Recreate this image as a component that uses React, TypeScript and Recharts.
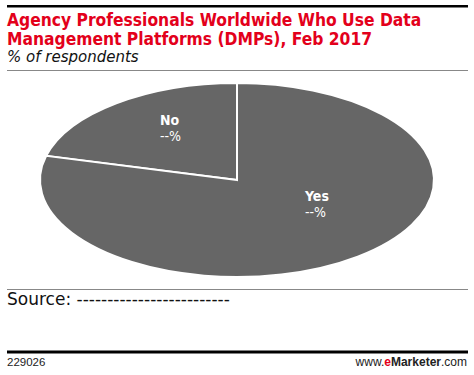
import React from "react";
import { PieChart, Pie, Cell } from "recharts";

const categories = ["No", "Yes"];
const values = [21, 79];
const valueLabels = ["--%", "--%"];

const TITLE_LINES = [
  "Agency Professionals Worldwide Who Use Data",
  "Management Platforms (DMPs), Feb 2017",
];
const SUBTITLE = "% of respondents";
const SOURCE = "Source: -------------------------";
const CHART_ID = "229026";

const data = categories.map((name, i) => ({ name, value: values[i], label: valueLabels[i] }));

const W = 474;
const H = 375;
const RY = 97;
const X_STRETCH = 197 / 97;
const SLICE_FILL = "#666666";
const RED = "#e3001b";

const LABEL_OFFSETS: Record<string, { dx: number; dy: number }> = {
  No: { dx: -77, dy: -55 },
  Yes: { dx: 68, dy: 21 },
};

const RAD = Math.PI / 180;

function EllipseSector(props: any) {
  const { cx, cy, outerRadius, startAngle, endAngle, fill } = props;
  const ry = outerRadius;
  const rx = outerRadius * X_STRETCH;
  const p = (a: number) => [cx + rx * Math.cos(a * RAD), cy - ry * Math.sin(a * RAD)];
  const [x1, y1] = p(startAngle);
  const [x2, y2] = p(endAngle);
  const span = Math.abs(endAngle - startAngle);
  const large = span > 180 ? 1 : 0;
  const sweep = endAngle > startAngle ? 0 : 1;
  const d = `M${cx},${cy} L${x1},${y1} A${rx},${ry} 0 ${large} ${sweep} ${x2},${y2} Z`;
  return <path d={d} fill={fill} stroke="#ffffff" strokeWidth={2} strokeLinejoin="miter" />;
}

function renderLabel(props: any) {
  const { cx, cy, payload, name } = props;
  const key = (payload && payload.name) || name;
  const off = LABEL_OFFSETS[key] || { dx: 0, dy: 0 };
  const x = cx + off.dx;
  const y = cy + off.dy;
  return (
    <g>
      <text x={x} y={y} fill="#ffffff" fontFamily="DejaVu Sans Condensed" fontWeight="bold" fontSize={14} textAnchor="start">
        {key}
      </text>
      <text x={x} y={y + 16} fill="#ffffff" fontFamily="DejaVu Sans Condensed" fontSize={14} textAnchor="start">
        {(payload && payload.label) || "--%"}
      </text>
    </g>
  );
}

export default function App() {
  return (
    <div style={{ position: "absolute", left: 0, top: 0, width: W, height: H, background: "#fff" }}>
      <svg width={W} height={H} style={{ position: "absolute", left: 0, top: 0 }}>
        <rect x={7} y={5} width={461} height={2.5} fill="#000" />
        {TITLE_LINES.map((t, i) => (
          <text key={i} x={7} y={26 + i * 18.5} fill={RED} fontFamily="DejaVu Sans Condensed" fontWeight="bold" fontSize={17.3}>
            {t}
          </text>
        ))}
        <text x={7} y={62} fill="#111" fontFamily="DejaVu Sans" fontStyle="italic" fontSize={15}>
          {SUBTITLE}
        </text>
        <rect x={7} y={70} width={461} height={1} fill="#888" />
        <rect x={7} y={289} width={461} height={1} fill="#888" />
        <text x={7} y={305} fill="#111" fontFamily="DejaVu Sans" fontSize={17}>
          {SOURCE}
        </text>
        <rect x={7} y={350.5} width={461} height={3} fill="#000" />
        <text x={7} y={366} fill="#222" fontFamily="Liberation Sans" fontSize={11.5}>
          {CHART_ID}
        </text>
        <text x={467} y={366} fill="#222" fontFamily="Liberation Sans" fontSize={12} textAnchor="end">
          <tspan>www.</tspan>
          <tspan fill={RED} fontWeight="bold">e</tspan>
          <tspan fontWeight="bold">Marketer</tspan>
          <tspan>.com</tspan>
        </text>
      </svg>
      <div style={{ position: "absolute", left: 0, top: 0 }}>
        <PieChart width={W} height={H} margin={{ top: 0, right: 0, bottom: 0, left: 0 }}>
          <Pie
            data={data}
            dataKey="value"
            nameKey="name"
            cx={237}
            cy={180}
            outerRadius={RY}
            startAngle={90}
            endAngle={450}
            isAnimationActive={false}
            shape={(p: any) => <EllipseSector {...p} />}
            label={renderLabel}
            labelLine={false}
          >
            {data.map((d) => (
              <Cell key={d.name} fill={SLICE_FILL} />
            ))}
          </Pie>
        </PieChart>
      </div>
    </div>
  );
}
